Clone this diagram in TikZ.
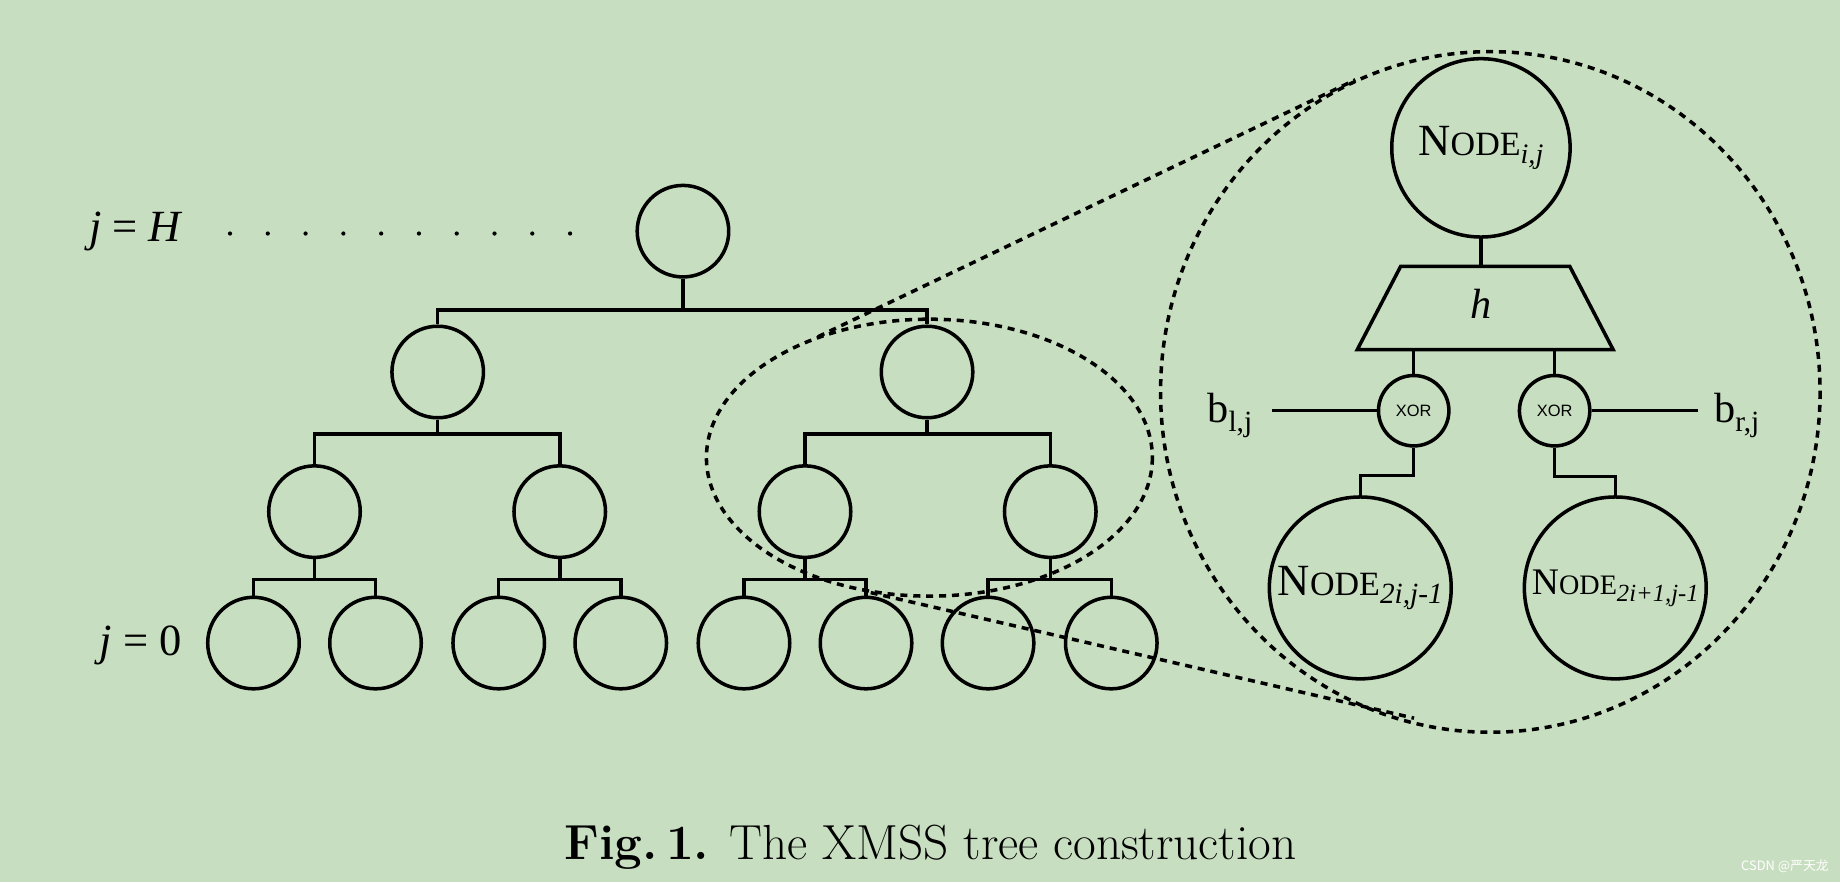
\documentclass[tikz,border=0pt]{standalone}
\usepackage{fontspec}
\setmainfont{Latin Modern Roman}
\newfontfamily\tms{Liberation Serif}
\newfontfamily\ars{Liberation Sans}
\newfontfamily\cjk{Noto Sans CJK SC}
\definecolor{bg}{RGB}{200,222,192}
\newcommand\fs[1]{\fontsize{#1}{#1}\selectfont}
\tikzset{
 tn/.style={circle,draw,line width=3pt,minimum size=78pt,inner sep=0pt},
 xn/.style={circle,draw,line width=3pt,minimum size=60pt,inner sep=0pt,font=\ars\fs{14}},
 bn/.style={circle,draw,line width=3pt,minimum size=155pt,inner sep=0pt},
 con/.style={line width=3pt},
 dsh/.style={line width=3pt,dash pattern=on 6pt off 5pt}
}
\begin{document}
\begin{tikzpicture}[x=1pt,y=-1pt]
\fill[bg] (0,0) rectangle (1568,752);
\useasboundingbox (0,0) rectangle (1568,752);
% tree
\node[tn] (r) at (582,197) {};
\node[tn] (a1) at (373,317) {};
\node[tn] (a2) at (790,317) {};
\foreach \i/\x in {1/268,2/477,3/686,4/895}{\node[tn] (b\i) at (\x,436) {};}
\foreach \i/\x in {1/216,2/320,3/425,4/529,5/634,6/738,7/842,8/947}{\node[tn] (c\i) at (\x,548) {};}
\draw[con] (r.south) -- (r.south |- 0,264);
\draw[con] (a1.north) -- (a1.north |- 0,264) -- (a2.north |- 0,264) -- (a2.north);
\foreach \p/\l/\rr in {a1/b1/b2,a2/b3/b4}{
 \draw[con] (\p.south) -- (\p.south |- 0,370);
 \draw[con] (\l.north) -- (\l.north |- 0,370) -- (\rr.north |- 0,370) -- (\rr.north);}
\foreach \p/\l/\rr in {b1/c1/c2,b2/c3/c4,b3/c5/c6,b4/c7/c8}{
 \draw[con] (\p.south) -- (\p.south |- 0,494);
 \draw[con] (\l.north) -- (\l.north |- 0,494) -- (\rr.north |- 0,494) -- (\rr.north);}
\node[font=\tms\fs{38}] (lh) at (116,197) {\textit{j} = \textit{H}};
\node[font=\tms\fs{38}] (l0) at (120,550) {\textit{j} = 0};
\foreach \k in {0,...,9}{\fill (196+32.2*\k,199) circle (1.8pt);}
% zoom
\draw[dsh] (792,390) ellipse [x radius=190,y radius=118];
\draw[dsh] (1270,334) ellipse [x radius=281,y radius=290];
\coordinate (t1) at (697,287); \coordinate (t2) at (1155,68);
\coordinate (u1) at (742,505); \coordinate (u2) at (1205,612);
\draw[dsh] (t1) -- (t2);
\draw[dsh] (u1) -- (u2);
% detail
\node[circle,draw,line width=3pt,minimum size=152pt,inner sep=0pt] (N) at (1262,126)
 {\tms{\fs{38}N}{\fs{29}ODE}\raisebox{-7pt}{\fs{24}\itshape i,j}};
\coordinate (h1) at (1193.6,227); \coordinate (h2) at (1337.7,227);
\coordinate (h3) at (1374.7,298); \coordinate (h4) at (1156.6,298);
\draw[con,line join=miter] (h1) -- (h2) -- (h3) -- (h4) -- cycle;
\node[font=\tms\itshape\fs{36}] (h) at (1262,259) {h};
\draw[con] (N.south) -- (N.south |- h1);
\node[xn] (x1) at (1204.7,350) {XOR};
\node[xn] (x2) at (1324.8,350) {XOR};
\draw[con] (x1.north) -- (x1.north |- h4);
\draw[con] (x2.north) -- (x2.north |- h4);
\node[font=\tms\fs{36}] (bl) at (1048,354) {b\raisebox{-7pt}{\fs{25}l,j}};
\node[font=\tms\fs{36}] (br) at (1480,354) {b\raisebox{-7pt}{\fs{25}r,j}};
\draw[con] (x1.west) -- (1084,350);
\draw[con] (x2.east) -- (1447,350);
\node[bn] (L) at (1159.2,501) {\tms{\fs{38}N}{\fs{29}ODE}\raisebox{-7pt}{\fs{25}\itshape 2i,j-1}};
\node[bn] (R) at (1376.5,501) {\tms{\fs{32}N}{\fs{24}ODE}\raisebox{-6pt}{\fs{21}\itshape 2i+1,j-1}};
\draw[con] (x1.south) -- (x1.south |- 0,405) -- (L.north |- 0,405) -- (L.north);
\draw[con] (x2.south) -- (x2.south |- 0,406) -- (R.north |- 0,406) -- (R.north);
% caption
\node[font=\fs{42}] (cap) at (793,722) {\textbf{Fig.\,1.} The XMSS tree construction};
\node[font=\cjk\fs{11},text=white,anchor=east] (wm) at (1562,738) {CSDN @严天龙};
\end{tikzpicture}
\end{document}
